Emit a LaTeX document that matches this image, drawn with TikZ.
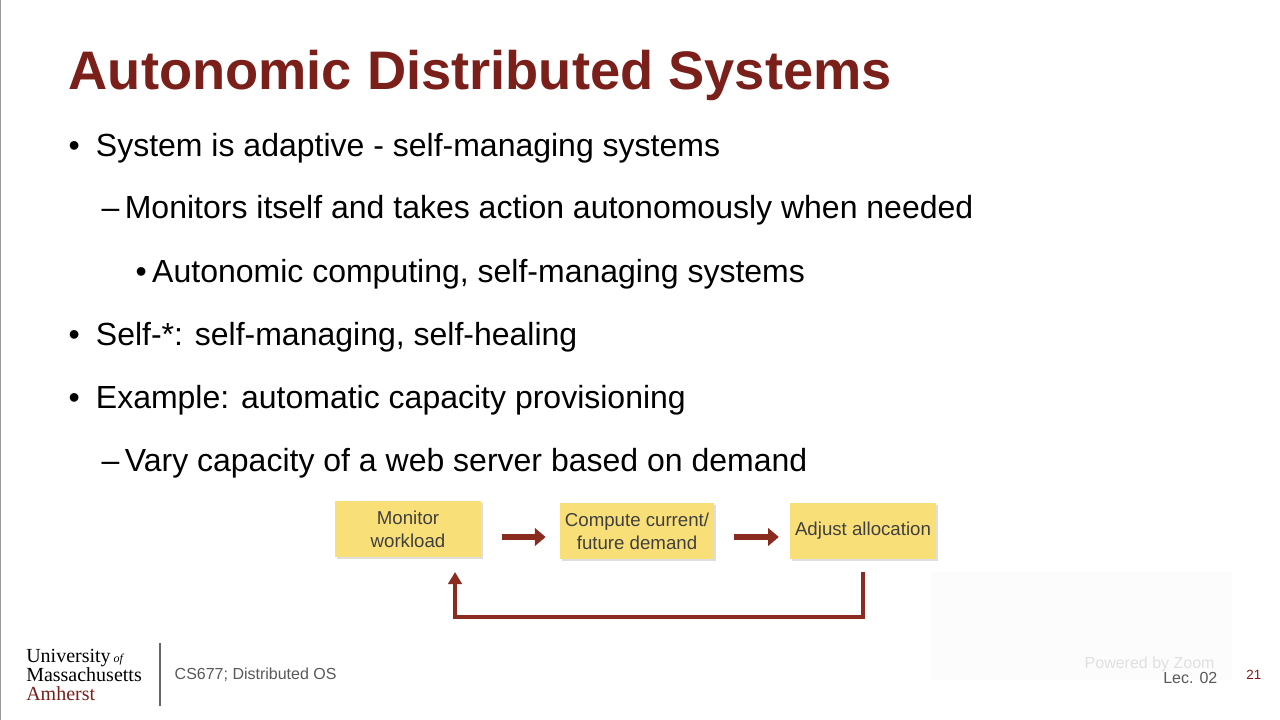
\documentclass[tikz,border=0pt]{standalone}
\usepackage{fontspec}
\setmainfont{Liberation Sans}
\newfontfamily\serifff{Liberation Serif}
\usetikzlibrary{arrows.meta,shadows}
\definecolor{umred}{HTML}{7A1F1A}
\definecolor{boxy}{HTML}{F9DF78}
\definecolor{arr}{HTML}{8B2A1E}
\tikzset{
 bl/.style={anchor=base west,font=\fontsize{24}{28}\selectfont},
 box/.style={fill=boxy,draw=none,minimum width=110pt,minimum height=42pt,align=center,font=\fontsize{14}{17}\selectfont,text=black!75,drop shadow={shadow xshift=1.5pt,shadow yshift=-1.5pt,fill=black!25}},
 fat/.style={arr,line width=5pt,-{Triangle[length=8pt,width=13pt]}},
 fb/.style={arr,line width=2.6pt}
}
\begin{document}
\begin{tikzpicture}[x=0.75pt,y=-0.75pt]
\useasboundingbox[fill=white] (0,0) rectangle (1280,720);
\draw[black!40,line width=0.6pt] (0.5,0)--(0.5,720);
\node[anchor=base west,text=umred,font=\fontsize{40.7}{46}\selectfont\bfseries] (title) at (64,90) {Autonomic Distributed Systems};
\node[bl] (b1) at (64,157) {\textbullet\hspace{12pt}System is adaptive - self-managing systems};
\node[bl] (b2) at (97,219) {--\,Monitors itself and takes action autonomously when needed};
\node[bl] (b3) at (131,282) {\textbullet\,Autonomic computing, self-managing systems};
\node[bl] (b4) at (64,345) {\textbullet\hspace{12pt}Self-*: self-managing, self-healing};
\node[bl] (b5) at (64,408) {\textbullet\hspace{12pt}Example: automatic capacity provisioning};
\node[bl] (b6) at (97,471) {--\,Vary capacity of a web server based on demand};
\node[box] (m) at (408,529) {Monitor\\workload};
\node[box] (c) at (637,531) {Compute current/\\future demand};
\node[box] (a) at (863,531) {Adjust allocation};
\draw[fat] (m.east)+(20,8) -- ++(64,8);
\draw[fat] (c.east)+(20,6) -- ++(65,6);
\coordinate (q1) at (863,617);
\coordinate (q2) at (455,617);
\draw[fb,-{Triangle[length=9pt,width=10pt]}] (863,572) -- (q1) -- (q2) -- (455,572);
\fill[black!1] (930,572) rectangle (1232,680);
\draw[black!60,line width=0.8pt] (160,643) -- (160,706);
\node[anchor=west,align=left,font=\serifff\fontsize{15}{14}\selectfont,inner sep=0] (logo) at (26,675) {University{\fontsize{9}{9}\selectfont\itshape\ of}\\Massachusetts\\\textcolor{umred}{Amherst}};
\node[anchor=west,text=black!65,font=\fontsize{12}{14}\selectfont] (cs) at (170,675) {CS677; Distributed OS};
\node[anchor=east,text=black!65,font=\fontsize{12}{14}\selectfont] (lec) at (1222,678) {Lec. 02};
\node[anchor=west,text=black!12,font=\fontsize{12}{14}\selectfont] (zoom) at (1080,664) {Powered by Zoom};
\node[anchor=east,text=umred,font=\fontsize{10}{12}\selectfont] (pg) at (1266,675) {21};
\end{tikzpicture}
\end{document}
